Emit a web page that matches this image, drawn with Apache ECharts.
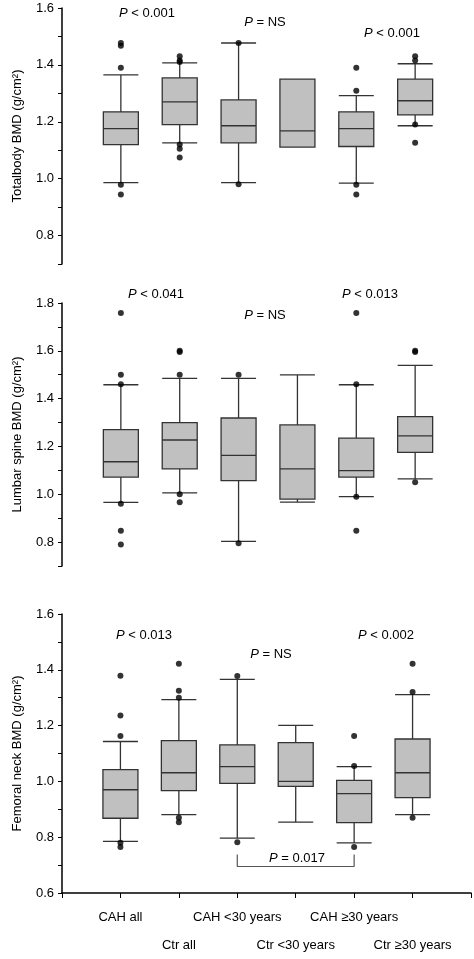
<!DOCTYPE html>
<html>
<head>
<meta charset="utf-8">
<script src="https://cdn.jsdelivr.net/npm/echarts@6/dist/echarts.min.js"></script>
<style>html,body{margin:0;padding:0;background:#fff}#chart{width:474px;height:959px}</style>
</head>
<body>
<div id="chart"></div>
<script>
// groups (first and last empty slots only pad the axis)
const categories = ['', 'CAH all', 'Ctr all', 'CAH <30 years', 'Ctr <30 years', 'CAH \u226530 years', 'Ctr \u226530 years', ''];

// [low whisker, Q1, median, Q3, high whisker]
const totalBoxes = [
    [0.986, 1.12, 1.176, 1.235, 1.365],
    [1.126, 1.19, 1.27, 1.354, 1.407],
    [0.986, 1.126, 1.186, 1.277, 1.477],
    [1.111, 1.111, 1.168, 1.35, 1.35],
    [0.984, 1.113, 1.176, 1.235, 1.292],
    [1.186, 1.224, 1.274, 1.35, 1.404]
];
const totalOutliers = [
    [1, 1.477], [1, 1.467], [1, 1.39], [1, 0.979], [1, 0.944],
    [2, 1.43], [2, 1.415], [2, 1.41], [2, 1.12], [2, 1.105], [2, 1.074],
    [3, 1.477], [3, 0.98],
    [5, 1.39], [5, 1.309], [5, 0.979], [5, 0.944],
    [6, 1.43], [6, 1.415], [6, 1.19], [6, 1.126]
];

const spineBoxes = [
    [0.966, 1.072, 1.136, 1.27, 1.458],
    [1.006, 1.106, 1.227, 1.30, 1.485],
    [0.803, 1.057, 1.163, 1.319, 1.485],
    [0.967, 0.98, 1.106, 1.29, 1.499],
    [0.99, 1.072, 1.099, 1.235, 1.458],
    [1.064, 1.175, 1.244, 1.325, 1.539]
];
const spineOutliers = [
    [1, 1.758], [1, 1.50], [1, 1.46], [1, 0.96], [1, 0.847], [1, 0.79],
    [2, 1.60], [2, 1.595], [2, 1.50], [2, 1.0], [2, 0.967],
    [3, 1.50], [3, 0.795],
    [5, 1.758], [5, 1.46], [5, 0.99], [5, 0.847],
    [6, 1.60], [6, 1.595], [6, 1.05]
];

const neckBoxes = [
    [0.785, 0.868, 0.970, 1.042, 1.143],
    [0.881, 0.967, 1.031, 1.146, 1.293],
    [0.797, 0.993, 1.053, 1.131, 1.366],
    [0.854, 0.982, 1.0, 1.139, 1.201],
    [0.780, 0.852, 0.956, 1.004, 1.053],
    [0.881, 0.942, 1.031, 1.152, 1.311]
];
const neckOutliers = [
    [1, 1.379], [1, 1.236], [1, 1.163], [1, 0.78], [1, 0.765],
    [2, 1.422], [2, 1.325], [2, 1.30], [2, 0.87], [2, 0.854],
    [3, 1.378], [3, 0.782],
    [5, 1.163], [5, 1.055], [5, 0.765],
    [6, 1.422], [6, 1.32], [6, 0.87]
];
// CAH <30 vs CAH >=30 bracket
const bracket = [[3, 0.738], [3, 0.695], [5, 0.695], [5, 0.738]];

const FONT = 'Liberation Sans, Arial, sans-serif';

const grids = [
    {left: 62, right: 0, top: 8, height: 256},
    {left: 62, right: 0, top: 303, height: 263},
    {left: 62, right: 0, top: 614, height: 289}
];
const yRanges = [[0.7, 1.6], [0.7, 1.8], [0.6, 1.6]];
const yNames = ['Totalbody BMD (g/cm\u00b2)', 'Lumbar spine BMD (g/cm\u00b2)', 'Femoral neck BMD (g/cm\u00b2)'];

const xAxis = grids.map((g, i) => ({
    type: 'category',
    gridIndex: i,
    data: categories,
    boundaryGap: false,
    show: i === 2,
    axisLine: {lineStyle: {color: '#000', width: 1.5}},
    axisTick: {length: 5, lineStyle: {color: '#000'}},
    axisLabel: {
        color: '#000', fontFamily: FONT, fontSize: 13, lineHeight: 28, margin: 10,
        interval: 0,
        formatter: (v, idx) => (idx % 2 === 0 && v ? '\n' + v : v)
    }
}));

const yAxis = yRanges.map((r, i) => ({
    type: 'value',
    gridIndex: i,
    min: r[0], max: r[1], interval: 0.1,
    splitLine: {show: false},
    axisLine: {show: true, lineStyle: {color: '#000', width: 1.5}},
    axisTick: {show: true, length: 4, interval: 0, lineStyle: {color: '#000'}},
    axisLabel: {
        color: '#000', fontFamily: FONT, fontSize: 13,
        showMinLabel: true,
        formatter: v => {
            const k = Math.round(v * 10);
            if (k % 2 !== 0 || (i < 2 && k === 7)) return '';
            return (k / 10).toFixed(1);
        }
    },
    name: yNames[i],
    nameLocation: 'middle',
    nameGap: 38,
    nameTextStyle: {color: '#000', fontFamily: FONT, fontSize: 13}
}));

const boxSets = [totalBoxes, spineBoxes, neckBoxes];
const outSets = [totalOutliers, spineOutliers, neckOutliers];
const series = [];
boxSets.forEach((boxes, i) => {
    series.push({
        type: 'boxplot',
        xAxisIndex: i, yAxisIndex: i,
        boxWidth: [35, 35],
        data: [null].concat(boxes).concat([null]).map(b => b || '-'),
        itemStyle: {color: '#c0c0c0', borderColor: '#333', borderWidth: 1.3},
        emphasis: {disabled: true}
    });
    series.push({
        type: 'scatter',
        xAxisIndex: i, yAxisIndex: i,
        symbolSize: 6,
        data: outSets[i],
        itemStyle: {color: '#000'}
    });
});
series.push({
    type: 'line',
    xAxisIndex: 2, yAxisIndex: 2,
    data: bracket,
    symbol: 'none',
    lineStyle: {color: '#555', width: 1.2}
});

const pLabels = [
    ['{i|P} < 0.001', 147, 13], ['{i|P} = NS', 265, 22], ['{i|P} < 0.001', 392, 33],
    ['{i|P} < 0.041', 156, 294], ['{i|P} = NS', 265, 315], ['{i|P} < 0.013', 370, 294],
    ['{i|P} < 0.013', 144, 635], ['{i|P} = NS', 271, 654], ['{i|P} < 0.002', 386, 635],
    ['{i|P} = 0.017', 297, 858]
];

const chart = echarts.init(document.getElementById('chart'));
chart.setOption({
    animation: false,
    grid: grids,
    xAxis: xAxis,
    yAxis: yAxis,
    series: series,
    graphic: pLabels.map(p => ({
        type: 'text', x: p[1], y: p[2],
        style: {
            text: p[0], align: 'center', verticalAlign: 'middle',
            fontFamily: FONT, fontSize: 13, fill: '#000',
            rich: {i: {fontStyle: 'italic', fontFamily: FONT, fontSize: 13}}
        }
    }))
});
</script>
</body>
</html>
